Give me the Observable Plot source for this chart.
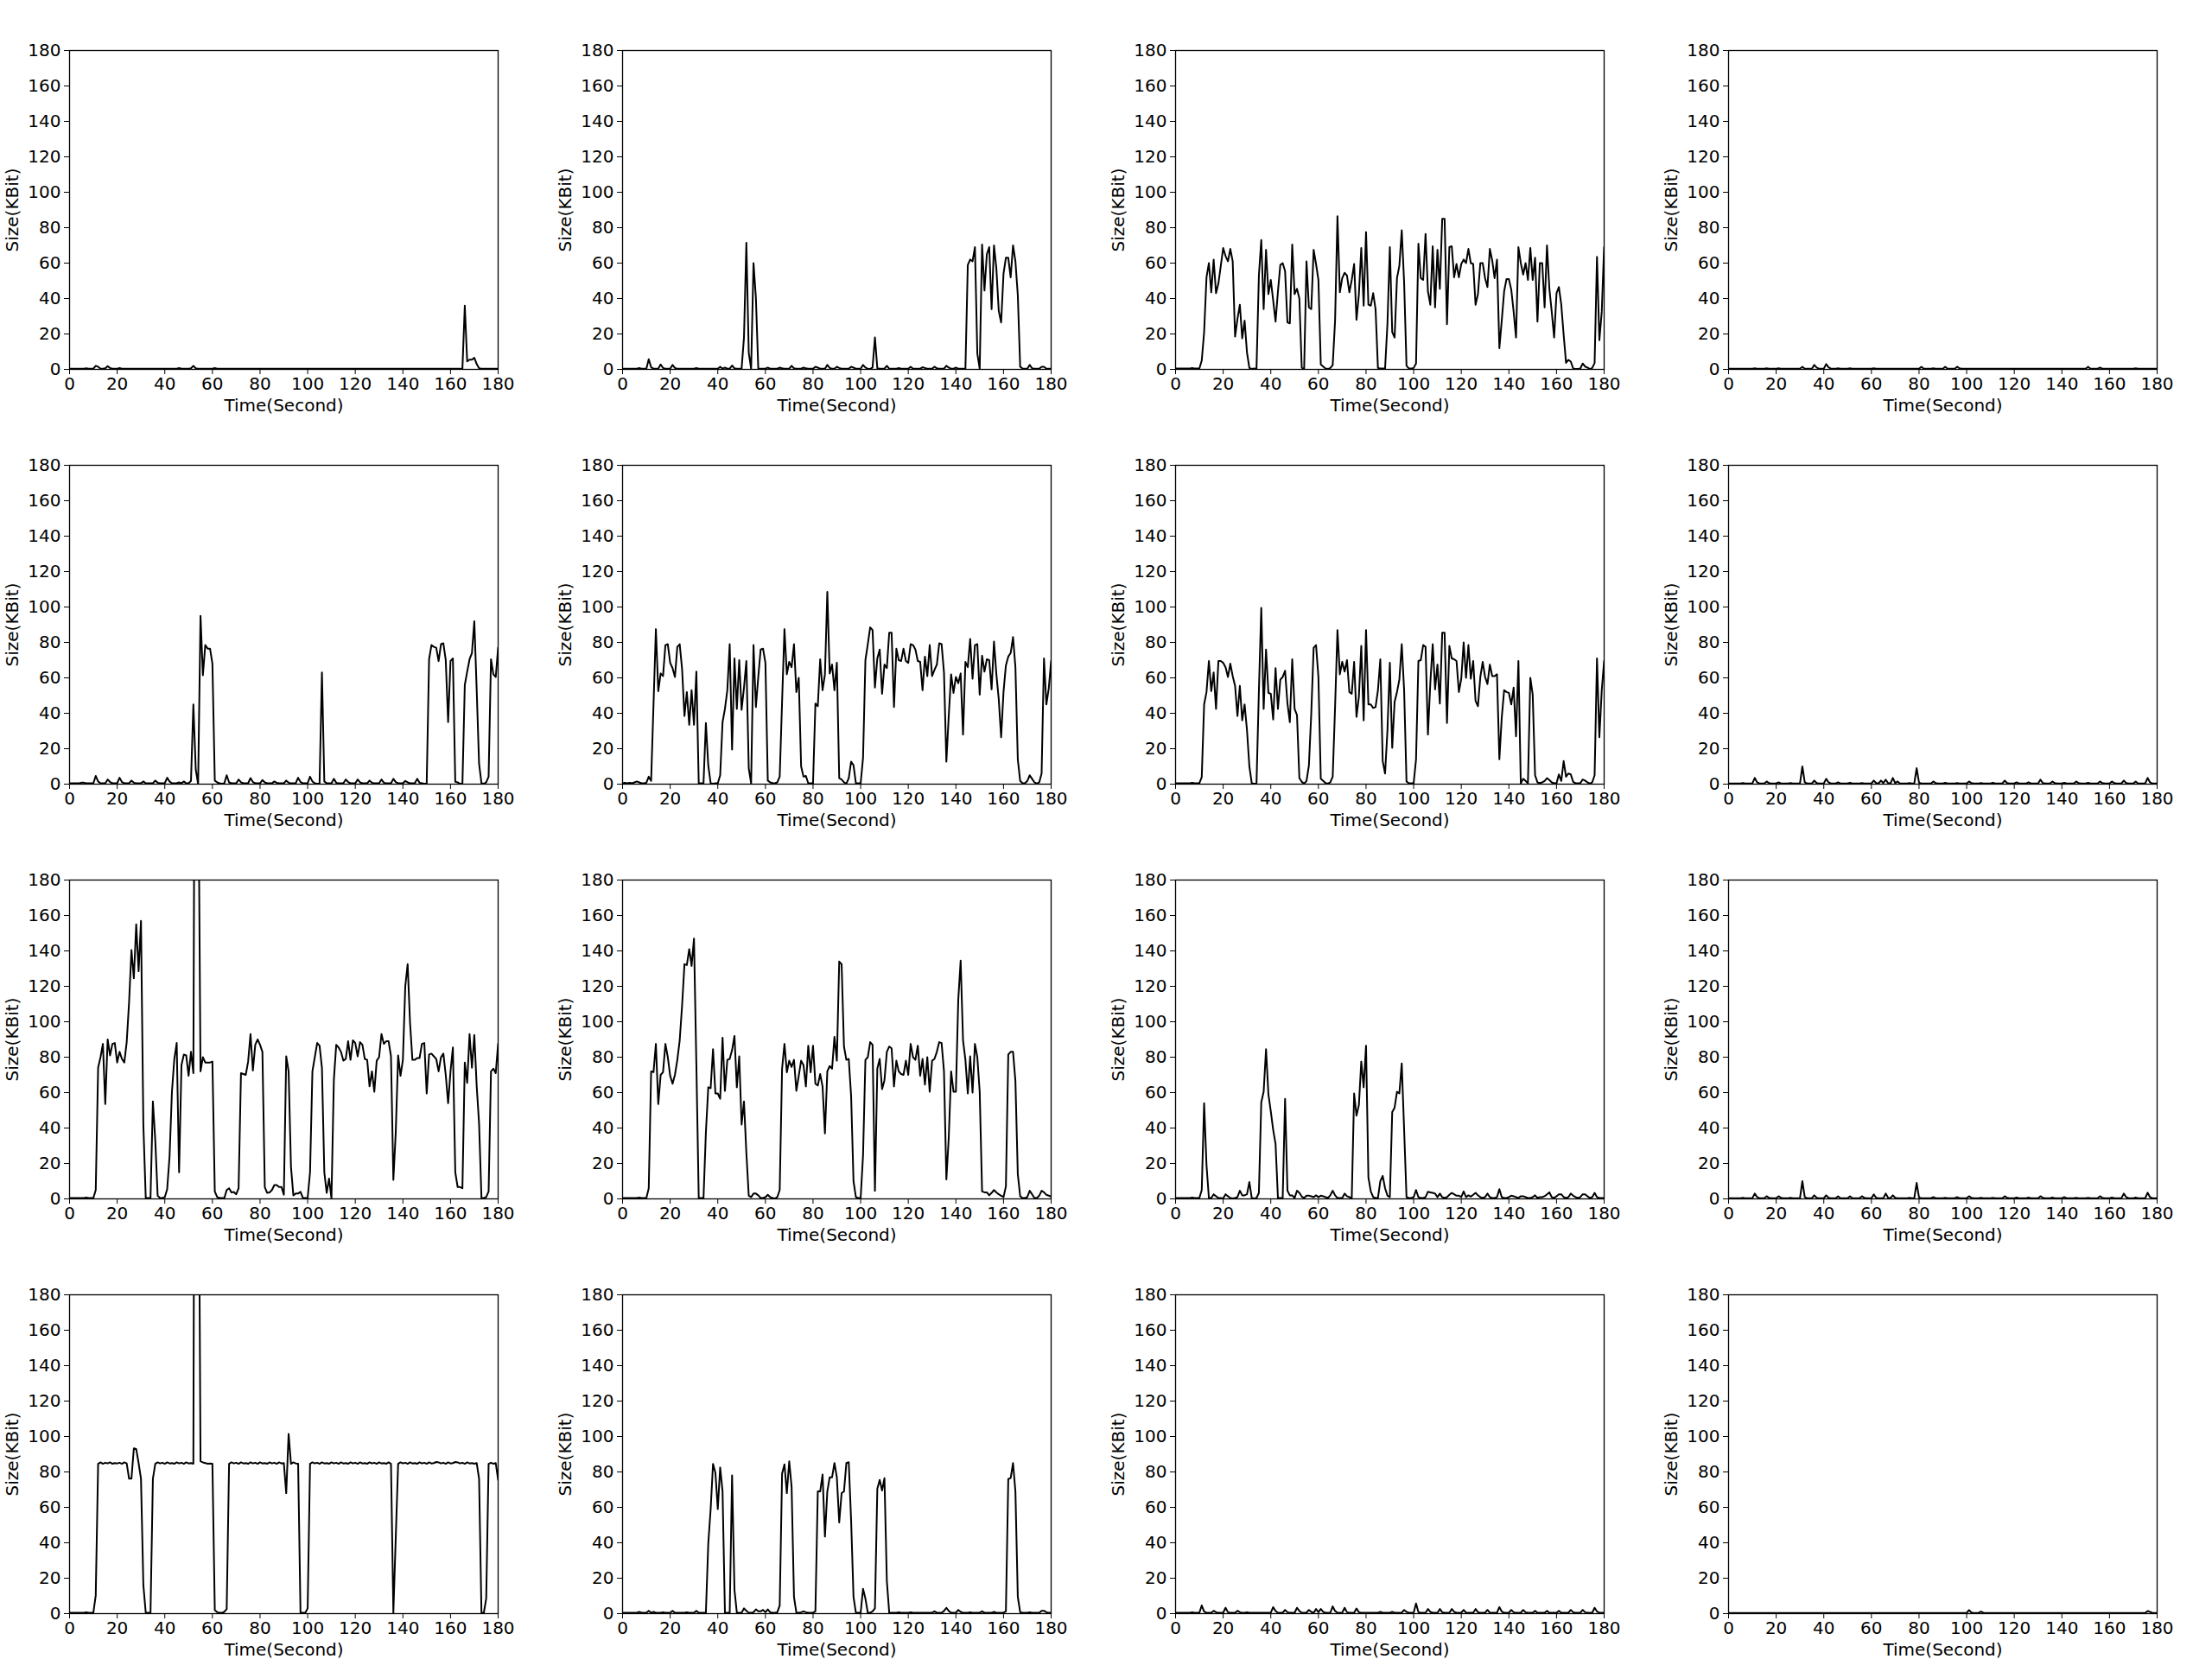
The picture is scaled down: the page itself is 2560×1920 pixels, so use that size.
<!DOCTYPE html>
<html>
<head>
<meta charset="utf-8">
<script src="https://cdn.jsdelivr.net/npm/d3@7"></script>
<script src="https://cdn.jsdelivr.net/npm/@observablehq/plot@0.6"></script>
<style>
  html, body { margin: 0; padding: 0; background: #fff; }
  #grid { width: 2560px; height: 1920px; display: grid; grid-template-columns: repeat(4, 640px); grid-template-rows: repeat(4, 480px); overflow: hidden; background: #fff; }
  #grid > div { width: 640px; height: 480px; }
</style>
</head>
<body>
<div id="grid"></div>
<script>
// Tick labels
const xTicks = [0, 20, 40, 60, 80, 100, 120, 140, 160, 180];
const yTicks = [0, 20, 40, 60, 80, 100, 120, 140, 160, 180];
const xLabel = "Time(Second)";
const yLabel = "Size(KBit)";
// Seconds 0..180 (one sample per second)
const seconds = d3.range(0, 181);

// Series, one value per second (KBit)
const s1 = [
.4,.4,.4,.4,.4,.4,.4,.6,.4,.4,
.4,2,1.5,.4,.4,.6,1.8,.8,.4,.4,
.4,.8,.4,.4,.4,.4,.4,.4,.4,.4,
.4,.4,.4,.4,.4,.4,.4,.4,.4,.4,
.4,.4,.4,.4,.4,.4,.8,.4,.4,.4,
.4,.6,2,.6,.4,.4,.4,.4,.4,.4,
.4,.8,.4,.4,.4,.4,.4,.4,.4,.4,
.4,.4,.4,.4,.4,.4,.4,.4,.4,.4,
.4,.4,.4,.4,.4,.4,.4,.4,.4,.4,
.4,.4,.4,.4,.4,.4,.4,.4,.4,.4,
.4,.4,.4,.4,.4,.4,.4,.4,.4,.4,
.4,.4,.4,.4,.4,.4,.4,.4,.4,.4,
.4,.4,.4,.4,.4,.4,.4,.4,.4,.4,
.4,.4,.4,.4,.4,.4,.4,.4,.4,.4,
.4,.4,.4,.4,.4,.4,.4,.4,.4,.4,
.4,.4,.4,.4,.4,.4,.4,.4,.4,.4,
.4,.4,.4,.4,.4,.3,36,4.5,5.5,5.5,
6.5,3,.6,.4,.4,.4,.4,.4,.4,.4,
.4];
const s2 = [
.4,.4,.4,.4,.4,.4,.4,.8,.4,.4,
.4,5.7,1.2,.4,.4,.4,2.8,.8,.4,.4,
.4,2.5,.8,.4,.4,.4,.4,.4,.4,.4,
.4,.8,.4,.4,.4,.4,.4,.4,.4,.4,
.4,1.5,.4,1,.4,.4,2.2,.6,.4,.4,
.4,18,71.5,9.5,.3,60,40.5,.5,.4,.4,
.4,1,.4,.4,.4,.4,1,.6,.4,.4,
.4,2,.6,.4,.4,.4,1,.6,.4,.4,
.4,1.5,1,.4,.4,.4,2.5,.8,.4,.4,
1.5,.8,.4,.4,.4,.4,1.5,1,.4,.4,
.4,2.5,1,.4,.3,1,18,.6,.4,.4,
.4,2,.4,.4,.4,.4,.8,.4,.4,.4,
.4,1.5,.4,.4,.4,.4,1.2,.8,.4,.4,
.4,1.5,.6,.4,.4,.4,2,1,.4,.4,
1,.4,.4,.4,.3,59,62,61,69,9,
.3,70.5,44.5,65,69,34,70,57,33,26.5,
54,63,63,52,70,61,42,1.5,.5,.4,
.4,2.5,.6,.4,.4,.4,1.5,1.5,.4,.4,
.4];
const s3 = [
.5,.5,.5,.5,.5,.5,.5,.8,.5,.5,
.5,5,21,52,60,43.5,62,43,48.5,58.5,
68.5,64,61,68,61,18.5,28.5,36.5,17.5,27.5,
9.5,.8,.3,.5,.3,53,73,34,67.5,42.5,
50.5,39,27,44,59,60,55.5,26.5,26,70.5,
42.5,45.5,40,1,0,61,35,34,67.5,59.5,
50.5,2.8,1.6,.5,.2,.8,2.4,27.5,86.5,43.5,
51.5,54.5,53,43.5,50.5,59.5,28,42.5,68.5,36,
77.5,36.5,36,43,34,.8,.5,.5,.5,26,
69,21,18,51.5,58.5,78.5,49,2,.5,.5,
.8,3.3,71,51.5,50.5,76.5,44,36.5,69.5,35,
67.5,45.5,85,85,25.5,69,69.5,52,59.5,52,
59.5,62,60,68,60,59.5,36.5,42.5,60,60,
51.5,46.5,68,61.5,51.5,62,12,27.5,44,51,
51,45,32.5,18,69,60,53.5,60,50.5,68.5,
50.5,63,27,60,60,35,70,45.5,32.5,18,
43,46.5,36.5,19.5,3.7,5.4,4.4,.5,.3,.3,
.5,3.3,1.6,1,.2,.8,3.6,63.5,16.5,32.5,
69];
const s4 = [
.4,.4,.4,.4,.4,.4,.4,.4,.4,.4,
.4,.6,.4,.4,.4,.4,.6,.4,.4,.4,
.4,.6,.4,.4,.4,.4,.4,.4,.4,.4,
.4,1.5,.4,.4,.4,.4,2.5,1,.4,.4,
.4,3,1.2,.4,.4,.4,.6,.4,.4,.4,
.4,.6,.4,.4,.4,.4,.4,.4,.4,.4,
.4,.6,.4,.4,.4,.4,.4,.4,.4,.4,
.4,.4,.4,.4,.4,.4,.4,.4,.4,.4,
.4,1.5,.4,.4,.4,.4,.6,.4,.4,.4,
.4,1.5,.4,.4,.4,.4,1.5,.6,.4,.4,
.4,.4,.4,.4,.4,.4,.4,.4,.4,.4,
.4,.4,.4,.4,.4,.4,.4,.4,.4,.4,
.4,.4,.4,.4,.4,.4,.4,.4,.4,.4,
.4,.4,.4,.4,.4,.4,.4,.4,.4,.4,
.4,.4,.4,.4,.4,.4,.4,.4,.4,.4,
.4,1.5,.4,.4,.4,.4,1,.4,.4,.4,
.4,.4,.4,.4,.4,.4,.4,.4,.4,.4,
.4,.6,.4,.4,.4,.4,.4,.4,.4,.4,
.4];
const s5 = [
.5,.5,.5,.5,.5,.8,.8,.5,.5,.5,
.5,4.6,1.5,.5,.5,.5,2.6,1.2,.5,.5,
.5,3.6,1.2,.5,.5,.5,2,.8,.5,.5,
.5,1.5,.5,.5,.5,.5,2,.8,.5,.5,
.5,3.6,1.5,.5,.5,.5,1,.5,1.5,.5,
.5,1.8,45,8.3,0,95,61.5,78.5,76.5,76.5,
68,2,1,.5,.3,.5,5,1,.5,.5,
.5,2.6,1,.5,.5,.5,3.4,1.2,.5,.5,
.5,2.3,1,.5,.5,.5,1.5,.8,.5,.5,
.5,2,.8,.5,.5,.5,3.6,1.2,.5,.5,
.5,4.2,1.5,.5,.3,.3,63,1.5,.5,.5,
.5,3,.8,.5,.5,.5,2.6,1.2,.5,.5,
.5,2.6,1,.5,.5,.5,2,.8,.5,.5,
.5,2.6,.8,.5,.5,.5,3,1.2,.5,.5,
.5,1.8,1,.5,.5,.5,3,.8,.5,.2,
.3,70.5,78.5,77.5,77,69.5,79,79.5,70,35,
69.5,71,1.3,1,.2,.2,56,63.5,70.5,74,
92,53,11.5,.5,.2,1,4.2,70.5,62,60.5,
77];
const s6 = [
.5,.8,.5,.8,.5,1,1.5,1,.5,.5,
.8,4.2,1.8,45,87.5,52.5,62.5,61,78.5,79,
68.5,65.5,60.5,77.5,79,65,38.5,52,33.5,53,
33.5,63.5,.5,.5,.5,34.5,10.5,.5,.3,.5,
.5,5,35,42.5,53,79,19.5,71,42.5,70,
42,54.5,69.5,9,.5,78.5,43.5,60.5,76,76.5,
68.5,2,1,.6,.5,1,4.2,46.5,87.5,62,
69,66,79,52,60,10,4.2,4.6,.5,.5,
.5,45.5,44,70.5,53,62,108.5,62.5,67.5,53,
68.5,3.4,2.6,1,.3,3.4,12.7,10.7,.5,.5,
.5,14.8,70,79,88.5,87,54.5,71,76,51,
67.5,65.5,85.5,85.5,43.5,76.5,70,69.5,76.5,69.5,
68.5,79,78.5,76,69.5,69,53,72,61,78.5,
61,64.5,67.5,79.5,79,63,12.7,38.5,62,51.5,
60.5,57,62.5,28,69,66,82,59.5,78.5,79,
50.5,72.5,63.5,70.5,70,53.5,80.5,62,48,26.5,
52,67,72,74,83,66,14,1.8,.5,.5,
1.8,5,3,1,.3,1,6,71,45,54,
69.5];
const s7 = [
.5,.5,.5,.5,.5,.5,.5,.8,.5,.5,
.5,4,45,52,69.5,52.5,63,42.5,69.5,69.5,
68.5,66,60.5,68,61,55.5,38.5,55.5,36,45,
30.5,10,.5,.3,.3,52.5,99.5,42.5,76,51.5,
51,36.5,65.5,42.5,59,60.5,64,45.5,35,70.5,
42.5,39,3.4,1.3,.3,1.8,10.5,40,77,78.5,
60.5,3,1.8,.6,.3,1,4.2,43.5,87,62,
69,63.5,70,52,51,69,38,49.5,78,36,
87,45,45,43,43.5,53,70.5,13,6,30.5,
68.5,20.5,46.5,52,59,79,53,1.5,.5,.5,
.5,14,69.5,70,78.5,77.5,28,57,79,53.5,
67.5,45.5,85.5,85.5,34.5,78,71,70.5,69.5,52,
59.5,80,60,78.5,59.5,69.5,47,44,60.5,69,
60.5,56.5,67.5,61,61,62,14,37.5,53,52,
51.5,45,54.5,27,69.5,.5,3,1.8,.5,60,
50.5,5,1,.6,1,1.8,3.4,2.3,1,.5,
.5,5.5,1.8,13,4.2,6,5.5,1.3,.5,.5,
.6,2.6,2,1,.3,1,5,71,26.5,53,
69.5];
const s8 = [
.4,.4,.4,.4,.4,.4,.6,.4,.4,.4,
.4,3.5,1,.4,.4,.4,1.5,.6,.4,.4,
.4,1,.4,.4,.4,.4,.6,.4,.4,.4,
.4,10,1,.4,.4,.4,2,.6,.4,.4,
.4,3,1,.4,.4,.4,1,.4,.4,.4,
.4,.8,.4,.4,.4,.4,.6,.4,.4,.4,
.4,2,.6,.4,2,.6,2.5,.6,.4,3.5,
.6,1.5,.4,.4,.4,.4,.6,.4,.4,9,
.8,.4,.4,.4,.4,.4,1.5,.6,.4,.4,
.4,.8,.4,.4,.4,.4,.6,.4,.4,.4,
.4,1.5,.6,.4,.4,.4,.6,.4,.4,.4,
.4,.8,.4,.4,.4,.4,2,.6,.4,.4,
.4,1,.4,.4,.4,.4,1,.4,.4,.4,
.4,2.5,.6,.4,.4,.4,1.5,.6,.4,.4,
.4,.8,.4,.4,.4,.4,1.5,.6,.4,.4,
.4,.8,.4,.4,.4,.4,1.5,.6,.4,.4,
.4,1.5,.6,.4,.4,.4,2,.6,.4,.4,
.4,1.5,.4,.4,.4,.4,3.5,1,.4,.4,
.4];
const s9 = [
.5,.5,.5,.5,.5,.5,.5,.8,.5,.5,
.5,5,74,80,87.5,53.5,90,81,87.5,88,
77,83,79,77,88.5,111,140.5,124.5,155,128.5,
157,41.5,.5,.5,.5,55,33,1.8,.5,.5,
1,5.5,24,60.5,79,88,15,75.5,81.5,81,
69.5,83,71,450,260,72,80,77,77,77,
77.5,4.2,1,.5,.5,.5,5,6,3.7,3.9,
2.6,6,71,70.5,70,77.5,93,72.5,87,90,
87,83,6.7,3.4,3.7,5,7.8,7.8,6.7,6.7,
2.3,80.5,72,18,2,3,3,4,.5,.5,
.5,15,72,80,88,86.5,74,15,3.4,11.5,
.2,67,87,85.5,83,78,79,89,78.5,89.5,
88,80.5,88.5,87,79,78.5,63.5,72,60.5,78,
80,93,87.5,89,89,80.5,10.7,37.5,81,69.5,
78.5,120,132.5,99.5,78.5,78.5,79.5,79.5,87.5,88,
59.5,81.5,82,80.5,79,72,80,82,70,54,
72,85.5,15,6.7,6.7,6,77,65.5,93,74,
92.5,63.5,42.5,.5,.5,1,4.2,72,73.5,71,
87.5];
const s10 = [
.5,.5,.5,.5,.5,.5,.5,.8,.5,.5,
.5,6,72,71.5,87.5,53.5,70,71.5,87.5,80,
69.5,65,70,78.5,89.5,109,132.5,132,141,131.5,
147,76,.5,.5,.5,37.5,63,62.5,84.5,59.5,
59.5,56.5,91,61,78.5,79,84,92,63,80.5,
42,55,26,1.8,1,3,3,2,.5,.5,
1,2.3,1,.5,.2,1,5,73.5,87.5,71.5,
78,74.5,78.5,61,69.5,78,75.5,63.5,86.5,71.5,
86.5,65,64,70.5,63.5,37,72,75,73.5,91.5,
78,134,132.5,86,78.5,79,58,10,1,.5,
.5,24.5,78.5,80,88.5,87,4.5,73.5,79,62,
67,83,86,85,63.5,78,72,70.5,70,78,
70,87.5,80,78.5,86.5,69.5,79,64.5,80,60.5,
78,79,83,88.5,88,72,11,34.5,72,60.5,
60.5,112.5,134.5,89.5,78.5,59.5,80.5,60,87.5,80,
60.5,4.2,3.7,3.7,2,3.4,5,3.7,2.6,1.8,
1,7,81.5,83,83,66.5,14,1.5,.5,.5,
1,4.6,2.6,.5,.5,1.8,4.6,3.7,2.3,1.8,
1.3];
const s11 = [
.5,.5,.5,.5,.5,.5,.5,.8,.5,.5,
.5,5,54,19,.5,.5,2.6,1.5,.5,.5,
.3,2.6,1.5,.5,.3,.5,1,4.6,2,2,
2.6,9.5,.5,.3,.5,3.4,54.5,60.5,84.5,59,
49.5,39,31,.5,.5,.5,56.5,4.6,2,2,
.5,4.6,3.4,1.3,.5,1.8,1.8,1.5,1,2,
1,1.8,1.5,1,.5,2,4.6,2,.5,.5,
.5,3,1.5,1,.5,59.5,47,53,77.5,63,
86.5,12,4.2,1,.5,.5,10,13,6,1.8,
1,49,51.5,60.5,59.5,76.5,39,1,.5,.5,
1,5,1,.5,.5,1,4,3.7,3.4,3,
1,3,1,.5,1,2.3,3.4,2.6,1.8,1.8,
1,4.2,1,2,1.3,2.3,3.4,2,1,.5,
1,3,1,.5,.5,1,5.5,1,.5,.5,
1,1.8,1.5,1,.5,1.5,1.5,1,.5,.5,
1,2,.5,1,1,1.5,2.6,3.7,1,.5,
1.5,2.6,2.6,1,.5,1,3,1.8,1,.5,
1,2.6,2.6,1.5,.5,1,3.4,1,.5,.5,
.5];
const s12 = [
.4,.4,.4,.4,.4,.4,.6,.4,.4,.4,
.4,3,1,.4,.4,.4,1.5,.6,.4,.4,
.4,1.5,.6,.4,.4,.4,.6,.4,.4,.4,
.4,10,1,.4,.4,.4,2,.6,.4,.4,
.4,2,.6,.4,.4,.4,1.5,.4,.4,.4,
.4,1.5,.4,.4,.4,.4,1.5,.6,.4,.4,
.4,2.5,.6,.4,.4,.4,3,.6,.4,2,
.6,.4,.4,.4,.4,.4,.6,.4,.4,9,
.8,.4,.4,.4,.4,.4,1,.4,.4,.4,
.4,.6,.4,.4,.4,.4,1,.4,.4,.4,
.4,1.5,.6,.4,.4,.4,.6,.4,.4,.4,
.4,.6,.4,.4,.4,.4,1.5,.6,.4,.4,
.4,.8,.4,.4,.4,.4,.8,.4,.4,.4,
.4,1.5,.6,.4,.4,.4,.8,.4,.4,.4,
.4,1,.4,.4,.4,.4,.6,.4,.4,.4,
.4,.6,.4,.4,.4,.4,1.5,.6,.4,.4,
.4,.8,.4,.4,.4,.4,3,1,.4,.4,
.4,.8,.4,.4,.4,.4,3.5,1,.4,.4,
.4];
const s13 = [
.5,.5,.5,.5,.5,.5,.5,.8,.5,.5,
.5,10.3,84.6,85.4,84.6,85.2,84.8,85.4,84.6,85,
84.8,85.2,84.6,85.4,84.8,76.2,76.2,93.3,92.9,85,
76.2,16,.5,.5,.5,76.2,84.6,85.4,84.8,85.2,
84.6,85.4,84.8,85,84.6,85.4,84.8,85.2,84.6,85.4,
84.8,85,84.6,600,330,86,85.4,85,84.6,84.8,
84.6,2,.8,.5,.5,1,2.6,84.6,85.4,84.8,
85.2,84.6,85.4,84.8,85,84.6,85.4,84.8,85.2,84.6,
85.4,84.8,85,84.6,85.4,84.8,85.2,84.6,85.4,84.8,
85,68,101.5,84.6,85.4,84.8,84.6,.5,.5,.5,
3,84.6,85.4,84.8,85.2,84.6,85.4,84.8,85,84.6,
85.4,84.8,85.2,84.6,85.4,84.8,85,84.6,85.4,84.8,
85.2,84.6,85.4,84.8,85,84.6,85.4,84.8,85.2,84.6,
85.4,84.8,85,84.6,85.4,84.6,.5,42.8,84.6,85.4,
84.8,85.2,84.6,85.4,84.8,85,84.6,85.4,84.8,85.2,
84.6,85.4,84.8,85,85.6,85.4,84.8,85.2,84.6,85.4,
84.8,85,85.6,85.4,84.8,85.2,84.6,85.4,84.8,85,
84.6,85,76.2,.5,.5,8.6,84.6,85.2,84.6,85,
75.5];
const s14 = [
.5,.5,.5,.5,.5,.5,.5,1,.5,.5,
.5,1.6,.5,1,.5,.5,.5,.8,.5,.5,
.5,1.6,.5,.5,.5,.5,.5,.8,.5,.5,
.5,1.6,.5,.5,.5,.5,39.5,59,84.5,79.5,
59,82.5,69,.5,.5,.5,78,13.5,.5,.5,
.5,3,1.6,.5,.5,.8,2.4,1.3,1.3,2.1,
.8,2.4,.8,.5,.5,.8,4.6,79,84.3,68,
86,71.5,9.5,.5,.5,.8,1.3,.8,.5,.5,
.5,1.3,69,69,78.5,43.5,69,77,77,85,
77,51.5,68,69,85,85.5,52.5,9.5,.5,.5,
.5,14,8.5,.5,.5,1.3,3,70.5,75.5,69.5,
76.5,18.5,.5,.5,.5,.5,.8,.5,.5,.5,
.5,.8,.5,.5,.5,.5,.5,.5,.5,.5,
.5,1.3,.5,.5,.5,1.5,3.3,1.5,.5,.5,
.5,2.1,1,.5,.5,.5,.8,.5,.5,.5,
.5,1.3,.5,.5,.5,.5,1,.5,.5,.5,
.5,1.3,76,76.5,85,69,9.5,.8,.5,.5,
.5,.8,.5,.5,.5,.5,1.6,1.6,.8,.5,
.5];
const s15 = [
.5,.5,.5,.5,.5,.5,.5,.8,.5,.5,
.5,4.6,1.2,.5,.5,.5,1.6,.8,.5,.5,
.5,3.3,.8,.5,.5,.5,1.6,.8,.5,.5,
.8,.5,.5,.5,.5,.5,.5,.5,.5,.5,
.5,3.7,1.5,.5,.5,.5,2.1,.8,.5,.5,
.5,3.3,1.5,.5,.5,.5,2.1,1,.5,2.6,
.8,2.6,1,.5,.5,.5,4.1,1.5,.5,.5,
.5,3.3,.8,.5,.5,.5,2.9,.8,.5,.5,
.5,.5,.5,.5,.5,.5,1,.5,.5,.5,
.5,1,.5,.5,.5,.5,2.1,1,.5,.5,
.5,5.7,.8,.5,.5,.5,2.6,1,.5,.5,
.5,2.6,.8,.5,.5,.5,2.6,1,.5,.5,
.5,2.1,.5,.5,.5,.5,2.6,.8,.5,.5,
.5,2.1,.5,.5,.5,.5,3.7,1.2,.5,.5,
.5,2.1,.8,.5,.5,.5,2.1,.8,.5,.5,
.5,1.6,.5,.5,.5,.5,1.6,.5,.5,.5,
.5,1.6,.5,.5,.5,.5,2.1,.8,.5,.5,
.5,2.1,.8,.5,.5,.5,3.3,1.2,.5,.5,
.5];
const s16 = [
.4,.4,.4,.4,.4,.4,.4,.4,.4,.4,
.4,.4,.4,.4,.4,.4,.4,.4,.4,.4,
.4,.4,.4,.4,.4,.4,.4,.4,.4,.4,
.4,.4,.4,.4,.4,.4,.4,.4,.4,.4,
.4,.4,.4,.4,.4,.4,.4,.4,.4,.4,
.4,.4,.4,.4,.4,.4,.4,.4,.4,.4,
.4,.4,.4,.4,.4,.4,.4,.4,.4,.4,
.4,.4,.4,.4,.4,.4,.4,.4,.4,.4,
.4,.4,.4,.4,.4,.4,.4,.4,.4,.4,
.4,.4,.4,.4,.4,.4,.4,.4,.4,.4,
.4,2,.6,.4,.4,.4,1.2,.5,.4,.4,
.4,.4,.4,.4,.4,.4,.4,.4,.4,.4,
.4,.4,.4,.4,.4,.4,.4,.4,.4,.4,
.4,.4,.4,.4,.4,.4,.4,.4,.4,.4,
.4,.4,.4,.4,.4,.4,.4,.4,.4,.4,
.4,.4,.4,.4,.4,.4,.4,.4,.4,.4,
.4,.4,.4,.4,.4,.4,.4,.4,.4,.4,
.4,.4,.4,.4,.4,.4,1.5,1,.4,.4,
.4];

const panels = [s1, s2, s3, s4, s5, s6, s7, s8, s9, s10, s11, s12, s13, s14, s15, s16];

const grid = document.getElementById("grid");
const font = "'DejaVu Sans', sans-serif";

for (const series of panels) {
  const data = seconds.map((t, i) => ({t, v: series[i]}));
  const chart = Plot.plot({
    width: 640,
    height: 480,
    marginLeft: 80,
    marginRight: 64,
    marginTop: 58,
    marginBottom: 53,
    style: {fontFamily: font, fontSize: "20px", color: "#000", background: "#fff", overflow: "visible"},
    x: {domain: [0, 180]},
    y: {domain: [0, 180]},
    marks: [
      Plot.line(data, {x: "t", y: "v", stroke: "#000", strokeWidth: 2, clip: true}),
      Plot.frame({stroke: "#000", strokeWidth: 1.3}),
      Plot.axisX({ticks: xTicks, tickSize: 6, tickPadding: 3, tickFormat: d => String(d),
        label: xLabel, labelAnchor: "center", labelArrow: "none", labelOffset: 48,
        fontSize: 20}),
      Plot.axisY({ticks: yTicks, tickSize: 6, tickPadding: 4, tickFormat: d => String(d),
        label: yLabel, labelAnchor: "center", labelArrow: "none", labelOffset: 74,
        fontSize: 20})
    ]
  });
  const cell = document.createElement("div");
  cell.appendChild(chart);
  grid.appendChild(cell);
}
</script>
</body>
</html>
